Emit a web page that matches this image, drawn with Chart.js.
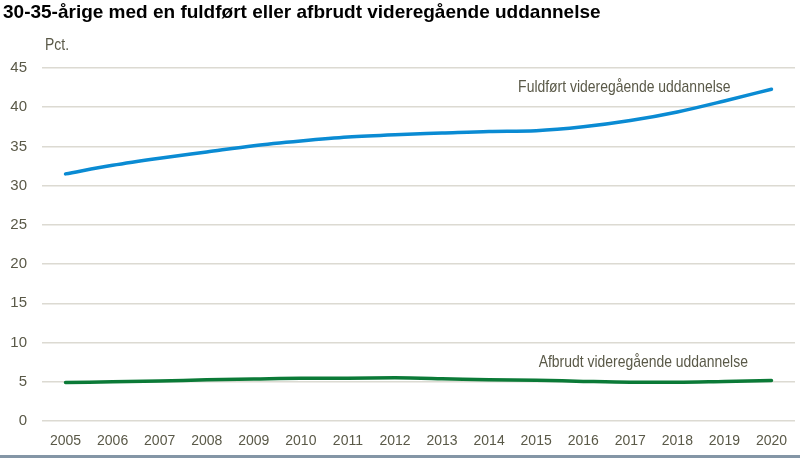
<!DOCTYPE html>
<html>
<head>
<meta charset="utf-8">
<script src="https://cdn.jsdelivr.net/npm/chart.js@4/dist/chart.umd.min.js"></script>
<style>
  html, body { margin: 0; padding: 0; background: #fff; }
  #wrap { width: 800px; height: 459px; position: relative; }
</style>
</head>
<body>
<div id="wrap"><canvas id="chart"></canvas></div>
<script>
// data
var years = ['2005','2006','2007','2008','2009','2010','2011','2012','2013','2014','2015','2016','2017','2018','2019','2020'];
var fuldfoert = [31.5, 32.6, 33.5, 34.3, 35.1, 35.7, 36.2, 36.5, 36.7, 36.9, 37.0, 37.5, 38.3, 39.4, 40.8, 42.3];
var afbrudt = [4.9, 5.0, 5.1, 5.25, 5.35, 5.45, 5.45, 5.5, 5.4, 5.25, 5.2, 5.05, 4.95, 4.95, 5.05, 5.15];
var seriesNames = ['Fuldført videregående uddannelse', 'Afbrudt videregående uddannelse'];
var yTicks = [0, 5, 10, 15, 20, 25, 30, 35, 40, 45];

var txtColor = '#5a5948';
var sans = '"Liberation Sans", Arial, sans-serif';

// narrow-looking text: draw regular font squeezed horizontally
function squeezed(ctx, text, cx, cy, sx) {
	ctx.save();
	ctx.translate(cx, cy);
	ctx.scale(sx, 1);
	ctx.fillText(text, 0, 0);
	ctx.restore();
}

// title, unit, labels next to the lines, bottom rule
var extras = {
	id: 'extras',
	afterDraw: function(chart) {
		var ctx = chart.ctx;
		var x = chart.scales.x, y = chart.scales.y;
		ctx.save();
		ctx.fillStyle = '#000';
		ctx.font = 'bold 19px ' + sans;
		ctx.textBaseline = 'middle';
		ctx.textAlign = 'left';
		ctx.fillText('30-35-årige med en fuldført eller afbrudt videregående uddannelse', 3, 13);

		ctx.fillStyle = txtColor;
		ctx.font = '17px ' + sans;
		squeezed(ctx, 'Pct.', 45, 45, 0.82);

		ctx.textAlign = 'center';
		squeezed(ctx, seriesNames[0], x.getPixelForValue(12) - 6, y.getPixelForValue(42.5), 0.82);
		squeezed(ctx, seriesNames[1], x.getPixelForValue(12) + 13, y.getPixelForValue(7.5), 0.82);

		ctx.strokeStyle = '#8496a6';
		ctx.lineWidth = 3;
		ctx.beginPath();
		ctx.moveTo(0, 456.5);
		ctx.lineTo(800, 456.5);
		ctx.stroke();
		ctx.restore();
	}
};

var ctx = document.getElementById('chart').getContext('2d');
var chart = new Chart(ctx, {
	type: 'line',
	data: {
		labels: years,
		datasets: [{
			label: seriesNames[0],
			data: fuldfoert,
			borderColor: '#0a8bd3',
			borderWidth: 3.5,
			pointRadius: 0,
			cubicInterpolationMode: 'monotone',
			borderCapStyle: 'round'
		}, {
			label: seriesNames[1],
			data: afbrudt,
			borderColor: '#0b7a37',
			borderWidth: 3.5,
			pointRadius: 0,
			cubicInterpolationMode: 'monotone',
			borderCapStyle: 'round'
		}]
	},
	options: {
		responsive: true,
		maintainAspectRatio: false,
		animation: false,
		layout: {
			padding: { top: 68, right: 5, left: 0, bottom: 0 }
		},
		plugins: {
			legend: { display: false },
			tooltip: { enabled: false },
			title: { display: false }
		},
		scales: {
			x: {
				offset: true,
				grid: { display: false, drawTicks: false },
				border: { display: false },
				ticks: {
					color: txtColor,
					font: { family: sans, size: 14 },
					padding: 12,
					maxRotation: 0,
					autoSkip: false
				},
				afterFit: function(scale) { scale.height = 38; }
			},
			y: {
				min: 0,
				max: 45,
				afterBuildTicks: function(scale) {
					scale.ticks = yTicks.map(function(v) { return { value: v }; });
				},
				grid: { color: '#dcdad2', lineWidth: 1.5, drawTicks: false },
				border: { display: false },
				ticks: {
					color: txtColor,
					font: { family: sans, size: 15 },
					padding: 15
				},
				afterFit: function(scale) { scale.width = 42; }
			}
		}
	},
	plugins: [extras]
});
</script>
</body>
</html>
